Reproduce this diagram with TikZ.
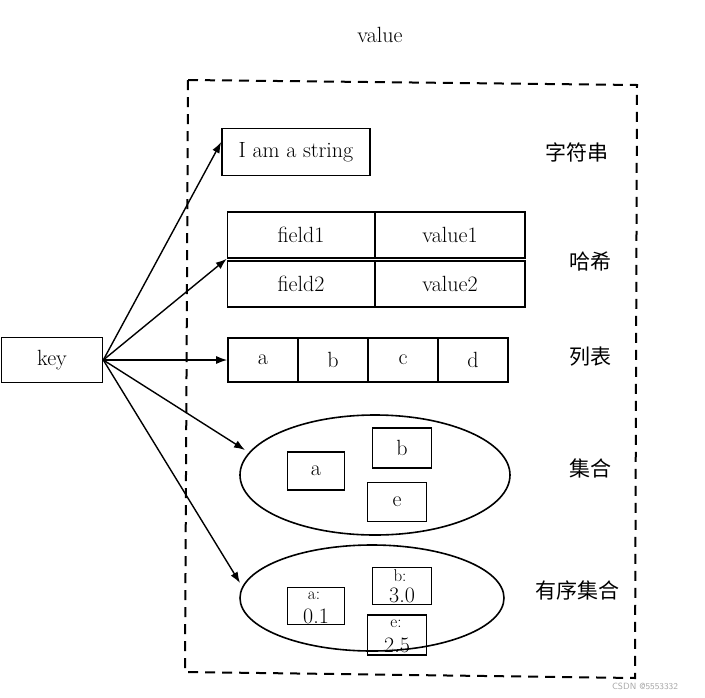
\documentclass[tikz,border=0pt]{standalone}
\usepackage{fontspec}
\newfontfamily\cjk{Noto Sans CJK SC}
\usetikzlibrary{arrows.meta}
\begin{document}
\begin{tikzpicture}[x=1pt,y=-1pt,
  cell/.style={draw,line width=1.6pt,rectangle,inner sep=0pt,font=\fontsize{22}{24}\selectfont},
  lab/.style={font=\cjk\fontsize{21}{24}\selectfont},
  small/.style={font=\fontsize{17}{18}\selectfont,inner sep=0pt},
  big/.style={font=\fontsize{22}{24}\selectfont,inner sep=0pt},
  arr/.style={-{Latex[length=11pt,width=8pt]},line width=1.4pt}]
\useasboundingbox (0,0) rectangle (705,697);
\node[font=\fontsize{22}{24}\selectfont] (val) at (380,35) {value};
\draw[line width=2pt,dash pattern=on 10pt off 7pt] (188,80) -- (637,85) -- (635,678) -- (185,672) -- cycle;
% key
\node[cell,minimum width=101pt,minimum height=45pt] (key) at (52,360) {key};
% string
\node[cell,minimum width=148pt,minimum height=47pt] (str) at (296,152) {I am a string};
% hash
\node[cell,minimum width=147pt,minimum height=46pt] (f1) at (301,235) {field1};
\node[cell,minimum width=150pt,minimum height=46pt] (v1) at (450,235) {value1};
\node[cell,minimum width=147pt,minimum height=46pt] (f2) at (301,284) {field2};
\node[cell,minimum width=150pt,minimum height=46pt] (v2) at (450,284) {value2};
% list
\node[cell,minimum width=70pt,minimum height=44pt] (la) at (263,360) {a};
\node[cell,minimum width=70pt,minimum height=44pt] (lb) at (333,360) {b};
\node[cell,minimum width=70pt,minimum height=44pt] (lc) at (403,360) {c};
\node[cell,minimum width=70pt,minimum height=44pt] (ld) at (473,360) {d};
% set
\draw[line width=1.6pt] (375,475) ellipse [x radius=135, y radius=60];
\coordinate (sete) at (245,450);
\node[cell,minimum width=57pt,minimum height=38pt] (sa) at (316,471) {a};
\node[cell,minimum width=59pt,minimum height=40pt] (sb) at (402,448) {b};
\node[cell,minimum width=59pt,minimum height=39pt] (se) at (397,502) {e};
% sorted set
\draw[line width=1.6pt] (372,598) ellipse [x radius=132, y radius=53];
\coordinate (zsete) at (240,583);
\node[cell,minimum width=57pt,minimum height=37pt] (za) at (316,606) {};
\node[cell,minimum width=59pt,minimum height=37pt] (zb) at (402,586) {};
\node[cell,minimum width=59pt,minimum height=40pt] (ze) at (397,635) {};
\node[small] (zak) at (314,596) {a:};
\node[big] (zav) at (316,616) {0.1};
\node[small] (zbk) at (400,576) {b:};
\node[big] (zbv) at (402,595) {3.0};
\node[small] (zek) at (396,624) {e:};
\node[big] (zev) at (397,645) {2.5};
% labels
\node[lab] (t1) at (577,152) {字符串};
\node[lab] (t2) at (590,262) {哈希};
\node[lab] (t3) at (590,357) {列表};
\node[lab] (t4) at (590,468) {集合};
\node[lab] (t5) at (577,590) {有序集合};
% arrows
\draw[arr] (key.east) -- (str.west|-0,142);
\draw[arr] (key.east) -- (f1.south west);
\draw[arr] (key.east) -- (la.west);
\draw[arr] (key.east) -- (sete);
\draw[arr] (key.east) -- (zsete);
\node[text=gray!70,font=\small\sffamily] (wm) at (645,686) {CSDN @5553332};
\end{tikzpicture}
\end{document}
